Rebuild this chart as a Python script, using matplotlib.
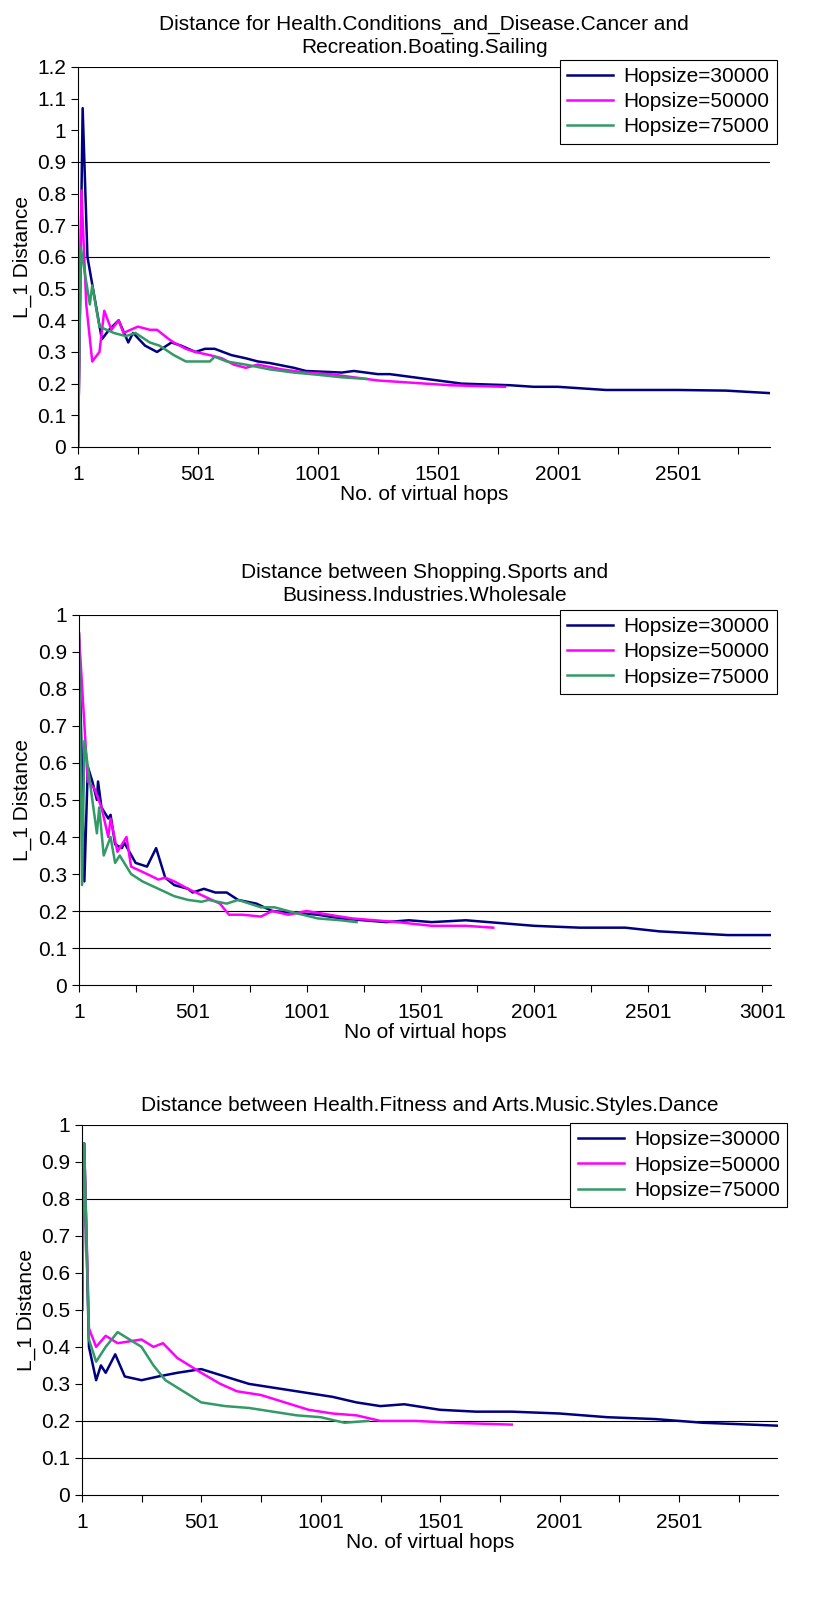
import matplotlib
matplotlib.use("Agg")
import matplotlib.pyplot as plt
import numpy as np

plt.rcParams['font.family'] = ['Liberation Sans', 'DejaVu Sans']

labels = ["Hopsize=30000", "Hopsize=50000", "Hopsize=75000"]
colors = ["#000080", "#FF00FF", "#339966"]

# Panel 1
p1_b_x = [1,20,40,100,130,170,210,230,280,330,390,430,490,530,570,640,700,750,800,900,950,1100,1150,1250,1300,1400,1500,1600,1800,1900,2000,2100,2200,2300,2500,2700,2885]
p1_b_y = [0,1.07,0.6,0.34,0.37,0.40,0.33,0.36,0.32,0.30,0.33,0.32,0.30,0.31,0.31,0.29,0.28,0.27,0.265,0.25,0.24,0.235,0.24,0.23,0.23,0.22,0.21,0.20,0.195,0.19,0.19,0.185,0.18,0.18,0.18,0.178,0.17]
p1_m_x = [1,15,35,60,90,110,140,170,190,250,300,330,380,400,450,490,550,600,650,700,750,850,950,1050,1150,1250,1350,1450,1550,1780]
p1_m_y = [0,0.81,0.45,0.27,0.30,0.43,0.37,0.40,0.36,0.38,0.37,0.37,0.34,0.33,0.31,0.30,0.29,0.28,0.26,0.25,0.26,0.245,0.235,0.23,0.22,0.21,0.205,0.20,0.195,0.19]
p1_g_x = [1,12,50,60,90,150,200,240,300,340,400,450,500,550,570,620,700,800,900,1000,1100,1200]
p1_g_y = [0,0.63,0.45,0.51,0.38,0.36,0.35,0.36,0.33,0.32,0.29,0.27,0.27,0.27,0.285,0.27,0.26,0.245,0.235,0.228,0.22,0.215]

# Panel 2
p2_b_x = [1,25,40,60,80,85,100,130,140,160,190,200,250,300,340,380,420,480,500,550,600,650,700,780,850,950,1050,1150,1250,1350,1450,1550,1700,1800,1900,2000,2200,2400,2550,2700,2850,3040]
p2_b_y = [0.95,0.28,0.59,0.55,0.50,0.55,0.48,0.45,0.46,0.38,0.37,0.385,0.33,0.32,0.37,0.29,0.27,0.26,0.25,0.26,0.25,0.25,0.23,0.22,0.20,0.195,0.19,0.18,0.175,0.17,0.175,0.17,0.175,0.17,0.165,0.16,0.155,0.155,0.145,0.14,0.135,0.135]
p2_m_x = [1,40,70,100,130,140,170,210,230,300,350,380,420,480,550,620,660,720,800,850,920,1000,1100,1200,1300,1400,1550,1700,1820]
p2_m_y = [0.95,0.55,0.53,0.48,0.40,0.45,0.36,0.40,0.32,0.30,0.285,0.29,0.28,0.26,0.24,0.22,0.19,0.19,0.185,0.20,0.19,0.20,0.19,0.18,0.175,0.17,0.16,0.16,0.155]
p2_g_x = [1,15,25,60,80,90,110,140,160,180,230,280,350,420,480,540,570,650,700,800,860,950,1050,1150,1220]
p2_g_y = [0.95,0.27,0.66,0.50,0.41,0.48,0.35,0.40,0.33,0.35,0.30,0.28,0.26,0.24,0.23,0.225,0.23,0.22,0.23,0.21,0.21,0.195,0.18,0.175,0.17]

# Panel 3
p3_b_x = [1,10,30,60,80,100,140,180,250,320,400,500,600,700,800,900,1000,1050,1150,1250,1350,1500,1650,1800,2000,2200,2400,2600,2800,2916]
p3_b_y = [0.5,0.95,0.40,0.31,0.35,0.33,0.38,0.32,0.31,0.32,0.33,0.34,0.32,0.30,0.29,0.28,0.27,0.265,0.25,0.24,0.245,0.23,0.225,0.225,0.22,0.21,0.205,0.195,0.19,0.187]
p3_m_x = [1,10,30,60,100,150,250,300,340,400,500,580,650,750,850,950,1050,1150,1250,1400,1550,1800]
p3_m_y = [0.5,0.95,0.45,0.40,0.43,0.41,0.42,0.40,0.41,0.37,0.33,0.30,0.28,0.27,0.25,0.23,0.22,0.215,0.20,0.20,0.195,0.19]
p3_g_x = [1,10,30,60,100,150,200,250,300,350,450,500,600,700,800,900,1000,1100,1200]
p3_g_y = [0.5,0.95,0.42,0.36,0.40,0.44,0.42,0.40,0.35,0.31,0.27,0.25,0.24,0.235,0.225,0.215,0.21,0.195,0.20]

panels = [
    dict(rect=[0.095, 0.7222, 0.842, 0.2362], title="Distance for Health.Conditions_and_Disease.Cancer and\nRecreation.Boating.Sailing",
         xlabel="No. of virtual hops", ymax=1.2, ystep=0.1, grid=[0.6, 0.9, 1.2], xmax=2885, xlab_last=2501,
         series=[(p1_b_x, p1_b_y), (p1_m_x, p1_m_y), (p1_g_x, p1_g_y)], leg=(0.681, 0.963)),
    dict(rect=[0.096, 0.3878, 0.842, 0.23], title="Distance between Shopping.Sports and\nBusiness.Industries.Wholesale",
         xlabel="No of virtual hops", ymax=1.0, ystep=0.1, grid=[0.1, 0.2, 1.0], xmax=3040, xlab_last=3001,
         series=[(p2_b_x, p2_b_y), (p2_m_x, p2_m_y), (p2_g_x, p2_g_y)], leg=(0.681, 0.621)),
    dict(rect=[0.0998, 0.0709, 0.847, 0.23], title="Distance between Health.Fitness and Arts.Music.Styles.Dance",
         xlabel="No. of virtual hops", ymax=1.0, ystep=0.1, grid=[0.1, 0.2, 0.8, 1.0], xmax=2916, xlab_last=2501,
         series=[(p3_b_x, p3_b_y), (p3_m_x, p3_m_y), (p3_g_x, p3_g_y)], leg=(0.694, 0.302)),
]

FS = 15
fig = plt.figure(figsize=(8.22, 16.09), dpi=100)
for p in panels:
    ax = fig.add_axes(p["rect"])
    for (x, y), c, l in zip(p["series"], colors, labels):
        ax.plot(x, y, color=c, lw=1.8, label=l)
    ax.set_xlim(1, p["xmax"])
    ax.set_ylim(0, p["ymax"])
    yt = np.round(np.arange(0, p["ymax"] + 0.001, p["ystep"]), 2)
    ax.set_yticks(yt)
    ax.set_yticklabels([("%g" % v) for v in yt])
    ax.set_xticks(np.arange(1, p["xlab_last"] + 1, 500))
    ax.set_xticks(np.arange(251, p["xmax"], 500), minor=True)
    for g in p["grid"]:
        ax.axhline(g, color="black", lw=0.8, zorder=0)
    for s in ["top", "right"]:
        ax.spines[s].set_visible(False)
    ax.tick_params(direction="out", length=5, labelsize=FS, which="both", width=0.8)
    ax.tick_params(axis="x", pad=8)
    ax.set_xlabel(p["xlabel"], fontsize=FS, labelpad=1)
    ax.set_ylabel("L_1 Distance", fontsize=FS, labelpad=4)
    ax.set_title(p["title"], fontsize=FS, pad=10, linespacing=1.3)
    leg = ax.legend(loc="upper left", bbox_to_anchor=p["leg"], bbox_transform=fig.transFigure,
                    fontsize=FS, fancybox=False, edgecolor="black", framealpha=1,
                    handlelength=2.2, borderpad=0.35, labelspacing=0.3, handletextpad=0.5,
                    borderaxespad=0)
    leg.get_frame().set_linewidth(0.8)

fig.savefig("out.png", dpi=100)
